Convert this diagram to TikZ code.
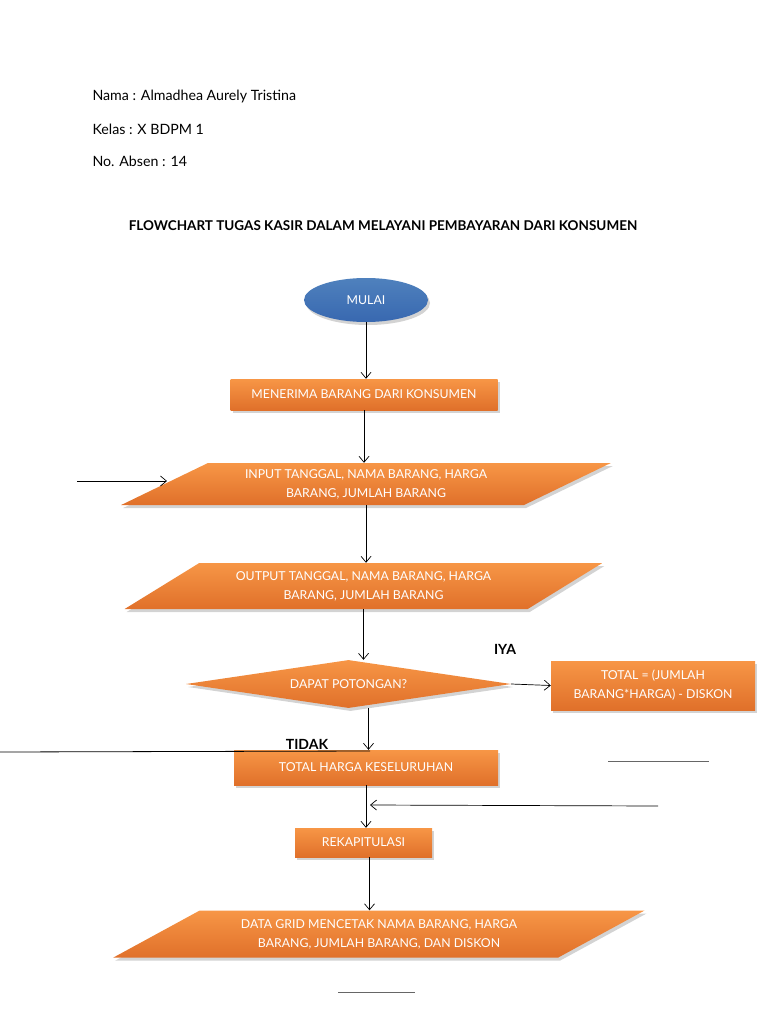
\documentclass[tikz,border=0pt]{standalone}
\usepackage{fontspec}
\setmainfont{Lato}
\usetikzlibrary{shapes.geometric,shadows,arrows.meta}
\definecolor{oranye}{HTML}{F79646}
\definecolor{oranyetua}{HTML}{E0702A}
\definecolor{biru}{HTML}{4F81BD}
\definecolor{birutua}{HTML}{3868B0}
\tikzset{
    kotak/.style={rectangle, top color=oranye, bottom color=oranyetua, text=white,
        drop shadow={opacity=0.35,shadow xshift=2pt,shadow yshift=-3pt},
        font=\fontsize{12.3}{19}\selectfont, align=center, inner sep=0pt},
    jajar/.style={kotak, trapezium, trapezium stretches=true},
    panah/.style={-{Straight Barb[length=6pt,width=10pt]}, line width=0.7pt},
}
\begin{document}
\begin{tikzpicture}[x=1pt,y=-1pt]
        \useasboundingbox (0,0) rectangle (768,1024);
        %identitas
        \node[anchor=west, font=\fontsize{14.2}{16}\selectfont] (nama) at (89,96) {Nama : Almadhea Aurely Tristina};
        \node[anchor=west, font=\fontsize{14.2}{16}\selectfont] (kelas) at (89,129) {Kelas : X BDPM 1};
        \node[anchor=west, font=\fontsize{14.2}{16}\selectfont] (absen) at (89,161) {No. Absen : 14};
        \node[font=\bfseries\fontsize{13.5}{16}\selectfont] (judul) at (383,226) {FLOWCHART TUGAS KASIR DALAM MELAYANI PEMBAYARAN DARI KONSUMEN};
        
        %simbol flowchart
        \node[ellipse, top color=biru, bottom color=birutua, text=white, minimum width=124, minimum height=44,
            drop shadow={opacity=0.35,shadow xshift=2pt,shadow yshift=-3pt}, font=\fontsize{12.3}{14}\selectfont] (mulai) at (366,300) {MULAI};
        \node[kotak, minimum width=267, minimum height=31] (terima) at (364,394.5) {MENERIMA BARANG DARI KONSUMEN};
        \node[jajar, minimum width=492, minimum height=42, trapezium left angle=24, trapezium right angle=156] (input) at (366,484)
            {INPUT TANGGAL, NAMA BARANG, HARGA\\BARANG, JUMLAH BARANG};
        \node[jajar, minimum width=479, minimum height=46, trapezium left angle=27, trapezium right angle=153] (output) at (363.5,586)
            {OUTPUT TANGGAL, NAMA BARANG, HARGA\\BARANG, JUMLAH BARANG};
        \node[kotak, diamond, aspect=6.77, minimum width=325, minimum height=48] (potong) at (348.5,684) {DAPAT POTONGAN?};
        \node[kotak, minimum width=204, minimum height=49] (diskon) at (653,685.5) {TOTAL = (JUMLAH\\BARANG*HARGA) - DISKON};
        \node[kotak, minimum width=264, minimum height=35] (totalharga) at (366,767.5) {TOTAL HARGA KESELURUHAN};
        \node[kotak, minimum width=137, minimum height=29] (rekap) at (363.5,842.5) {REKAPITULASI};
        \node[jajar, minimum width=532, minimum height=47, trapezium left angle=24, trapezium right angle=156] (grid) at (379,934)
            {DATA GRID MENCETAK NAMA BARANG, HARGA\\BARANG, JUMLAH BARANG, DAN DISKON};
        
        \node[font=\bfseries\fontsize{14}{16}\selectfont] (iya) at (505,649) {IYA};
        \node[font=\bfseries\fontsize{14}{16}\selectfont] (tidak) at (307,744) {TIDAK};
        
        %garis dan panah
        \draw[panah] (mulai.south) -- (mulai.south |- terima.north);
        \draw[panah] (terima.south) -- (terima.south |- input.north);
        \draw[panah] (input.south) -- (input.south |- output.north);
        \draw[panah] (output.south) -- (output.south |- potong.north);
        \draw[panah] (potong.east) -- (diskon.west);
        \draw[panah] ([xshift=20]potong.south) -- ([xshift=20]potong.south |- totalharga.north);
        \draw[panah] (totalharga.south) -- (totalharga.south |- rekap.north);
        \draw[panah] ([xshift=6]rekap.south) -- ([xshift=6]rekap.south |- grid.north);
        
        \coordinate (kiri1) at (77,481);
        \coordinate (kiri2) at (167,481);
        \draw[panah] (kiri1) -- (kiri2);
        \coordinate (garisA) at (0,752);
        \coordinate (garisB) at (370,751);
        \draw[line width=0.8pt] (garisA) -- (garisB);
        \coordinate (kanan1) at (658,806);
        \coordinate (kanan2) at (370,805);
        \draw[panah] (kanan1) -- (kanan2);
        \coordinate (sisa1) at (608,761);
        \coordinate (sisa2) at (709,761);
        \draw[gray!80!black, line width=1pt] (sisa1) -- (sisa2);
        \coordinate (sisa3) at (338,992);
        \coordinate (sisa4) at (415,992);
        \draw[gray!80!black, line width=1pt] (sisa3) -- (sisa4);
        
    \end{tikzpicture}
\end{document}
